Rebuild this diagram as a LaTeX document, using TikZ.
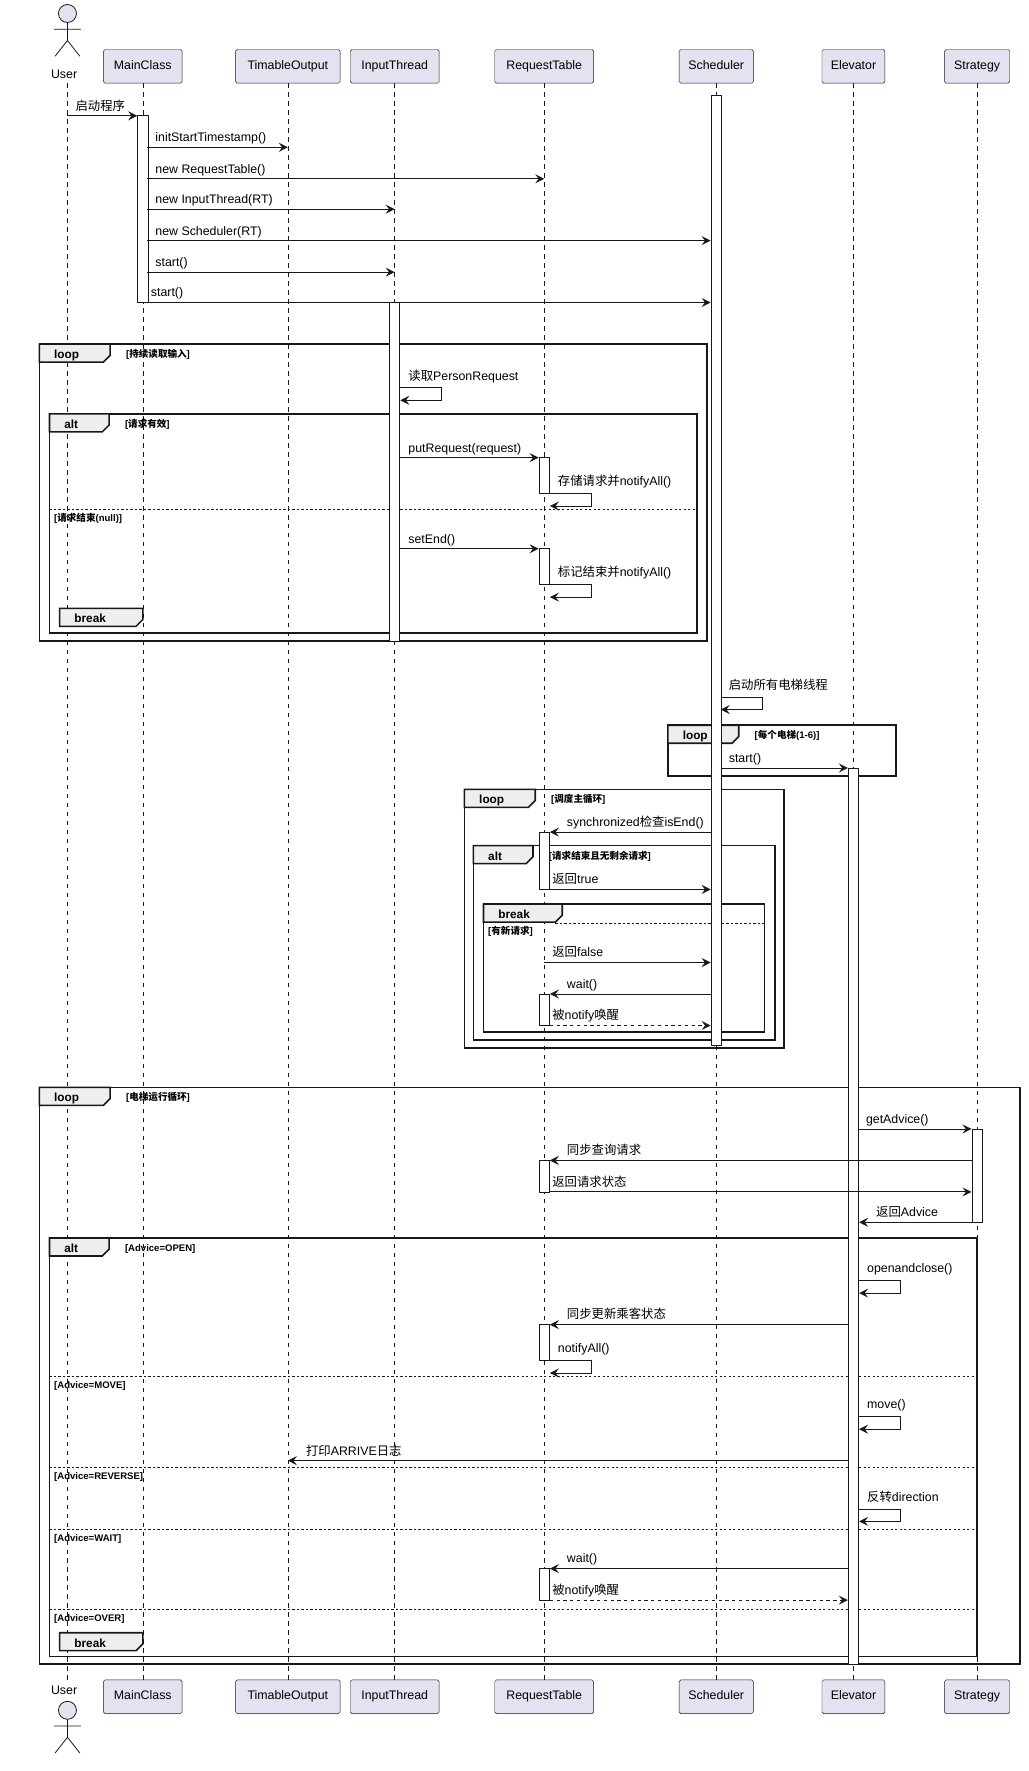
\documentclass[tikz,border=0pt]{standalone}
\usepackage{fontspec}
\setmainfont{Liberation Sans}
\newfontfamily\cjk{Noto Sans CJK SC}
\usetikzlibrary{arrows.meta}
\newcommand{\zh}[1]{{\cjk #1}}
\definecolor{headfill}{HTML}{E2E2F0}
\definecolor{tabfill}{HTML}{EEEEEE}
\definecolor{ln}{HTML}{181818}
\tikzset{
  life/.style={ln, dash pattern=on 4pt off 4pt, line width=0.5pt},
  head/.style={draw=ln, fill=headfill, rounded corners=1.5pt, minimum height=30pt, inner sep=0pt, text height=8pt, text depth=2.5pt, font=\fontsize{11}{13}\selectfont},
  actbar/.style={draw=ln, fill=white, line width=0.6pt},
  arr/.style={ln, line width=0.8pt, -{Stealth[length=8pt,width=8pt,inset=3pt]}},
  mlab/.style={anchor=base west, inner sep=0pt, font=\fontsize{11}{13}\selectfont},
  frameline/.style={ln, line width=1.4pt},
  kw/.style={anchor=base west, inner sep=0pt, font=\bfseries\fontsize{10.5}{12}\selectfont},
  cond/.style={anchor=base west, inner sep=0pt, font=\bfseries\fontsize{8.5}{10}\selectfont},
  sep/.style={ln, line width=0.6pt, dash pattern=on 2pt off 2pt},
}
\newcommand{\msg}[6][]{\draw[arr,#1] (#2,#4) -- (#3,#4); \node[mlab] at (#5,#4-5) {#6};}
\newcommand{\selfmsg}[3]{\draw[arr] (#1,#2) -- (#1+37,#2) -- (#1+37,#2+11) -- (#1,#2+11); \node[mlab] at (#1+7,#2-7) {#3};}
\newcommand{\frm}[7]{%
  \draw[frameline] (#1,#2) rectangle (#3,#4);
  \draw[frameline, fill=tabfill] (#1,#2) -- (#1+#6,#2) -- (#1+#6,#2+10) -- (#1+#6-6,#2+16) -- (#1,#2+16) -- cycle;
  \node[kw] at (#1+13,#2+13) {#5};
  \node[cond] at (#1+#6+14,#2+12) {#7};}
\newcommand{\act}[3]{\draw[actbar] (#1-4.5,#2) rectangle (#1+4.5,#3);}
\begin{document}
\begin{tikzpicture}[x=1pt,y=-1pt]
\useasboundingbox (0,0) rectangle (915,1575);
\foreach \x in {60,127,256,351,484,637,759,869} \draw[life] (\x,74) -- (\x,1494);
\foreach \x/\w/\t in {127/70/MainClass,256/93/TimableOutput,351/79/InputThread,484/88/RequestTable,637/66/Scheduler,759/56/Elevator,869/58/Strategy}{
  \node[head, minimum width=\w pt] (top\t) at (\x,59) {\t};
  \node[head, minimum width=\w pt] (bot\t) at (\x,1509) {\t};}
\begin{scope}[ln, line width=0.7pt]
\draw[fill=headfill] (60,12) circle (8);
\draw (60,20) -- (60,36) (48,26) -- (72,26) (49,50) -- (60,36) -- (71,50);
\draw[fill=headfill] (60,1521) circle (8);
\draw (60,1529) -- (60,1545) (48,1535) -- (72,1535) (49,1559) -- (60,1545) -- (71,1559);
\end{scope}
\node[font=\fontsize{11}{13}\selectfont] at (57,66) {User};
\node[font=\fontsize{11}{13}\selectfont] at (57,1503) {User};
\frm{35}{306}{629}{570}{loop}{63}{[\zh{持续读取输入}]}
\frm{44}{368}{620}{563}{alt}{53}{[\zh{请求有效}]}
\draw[sep] (44,453) -- (620,453);
\node[cond] at (48,464) {[\zh{请求结束}(null)]};
\draw[frameline, fill=tabfill] (53,541) -- (127,541) -- (127,551) -- (121,557) -- (53,557) -- cycle;
\node[kw] at (66,554) {break};
\frm{594}{645}{797}{690}{loop}{63}{[\zh{每个电梯}(1-6)]}
\frm{413}{702}{697}{932}{loop}{63}{[\zh{调度主循环}]}
\frm{421}{752}{689}{925}{alt}{53}{[\zh{请求结束且无剩余请求}]}
\draw[frameline] (430,804) rectangle (680,918);
\draw[frameline, fill=tabfill] (430,804) -- (500,804) -- (500,814) -- (494,820) -- (430,820) -- cycle;
\node[kw] at (443,817) {break};
\draw[sep] (494,821) -- (680,821);
\node[cond] at (434,831) {[\zh{有新请求}]};
\frm{35}{967}{907}{1480}{loop}{63}{[\zh{电梯运行循环}]}
\frm{44}{1101}{869}{1473}{alt}{53}{[Advice=OPEN]}
\foreach \y/\t in {1224/MOVE,1305/REVERSE,1360/WAIT,1431/OVER}{
  \draw[sep] (44,\y) -- (869,\y);
  \node[cond] at (48,\y+11) {[Advice=\t]};}
\draw[frameline, fill=tabfill] (53,1452) -- (127,1452) -- (127,1462) -- (121,1468) -- (53,1468) -- cycle;
\node[kw] at (66,1465) {break};
\act{127}{103}{269}
\act{637}{85}{930}
\act{351}{269}{570}
\act{484}{407}{439}
\act{484}{488}{520}
\act{759}{683}{1480}
\act{484}{740}{791}
\act{484}{884}{912}
\act{869}{1004}{1087}
\act{484}{1032}{1060}
\act{484}{1178}{1210}
\act{484}{1395}{1423}
\msg{60}{122}{103}{67}{\zh{启动程序}}
\msg{131}{256}{131}{138}{initStartTimestamp()}
\msg{131}{484}{159}{138}{new RequestTable()}
\msg{131}{351}{186}{138}{new InputThread(RT)}
\msg{131}{632}{214}{138}{new Scheduler(RT)}
\msg{131}{351}{242}{138}{start()}
\msg{122}{632}{269}{134}{start()}
\selfmsg{356}{345}{\zh{读取}PersonRequest}
\msg{356}{479}{407}{363}{putRequest(request)}
\selfmsg{489}{439}{\zh{存储请求并}notifyAll()}
\msg{356}{479}{488}{363}{setEnd()}
\selfmsg{489}{520}{\zh{标记结束并}notifyAll()}
\selfmsg{641}{620}{\zh{启动所有电梯线程}}
\msg{641}{754}{683}{648}{start()}
\msg{632}{489}{740}{504}{synchronized\zh{检查}isEnd()}
\msg{489}{632}{791}{491}{\zh{返回}true}
\msg{484}{632}{856}{491}{\zh{返回}false}
\msg{632}{489}{884}{504}{wait()}
\msg[dashed]{489}{632}{912}{491}{\zh{被}notify\zh{唤醒}}
\msg{764}{864}{1004}{770}{getAdvice()}
\msg{864}{489}{1032}{504}{\zh{同步查询请求}}
\msg{489}{864}{1060}{491}{\zh{返回请求状态}}
\msg{864}{764}{1087}{779}{\zh{返回}Advice}
\selfmsg{764}{1139}{openandclose()}
\msg{754}{489}{1178}{504}{\zh{同步更新乘客状态}}
\selfmsg{489}{1210}{notifyAll()}
\selfmsg{764}{1260}{move()}
\msg{754}{256}{1299}{272}{\zh{打印}ARRIVE\zh{日志}}
\selfmsg{764}{1342}{\zh{反转}direction}
\msg{754}{489}{1395}{504}{wait()}
\msg[dashed]{489}{754}{1423}{491}{\zh{被}notify\zh{唤醒}}
\end{tikzpicture}
\end{document}
